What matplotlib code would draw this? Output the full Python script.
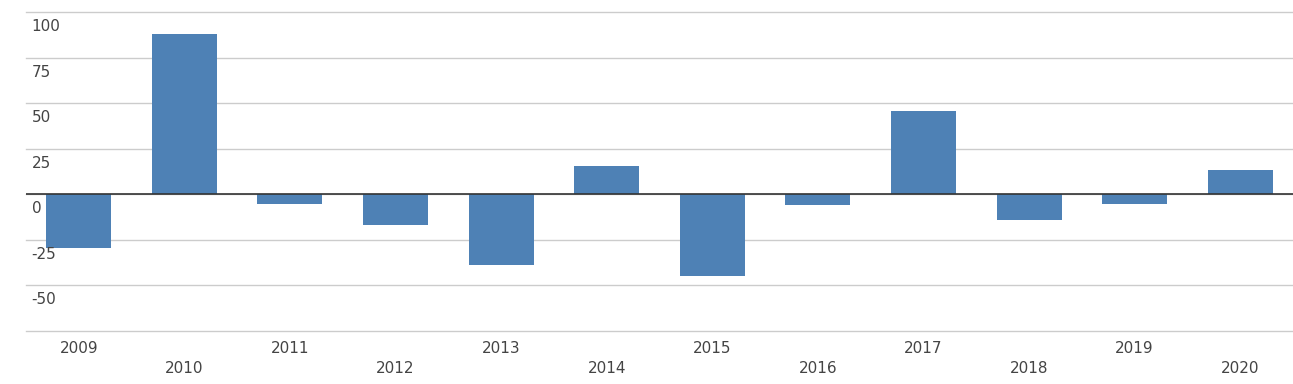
import numpy as np
import matplotlib
matplotlib.use('Agg')
import matplotlib.pyplot as plt
import matplotlib.transforms as mtransforms

years = ['2009', '2010', '2011', '2012', '2013', '2014',
         '2015', '2016', '2017', '2018', '2019', '2020']
values = [-29.5, 88.1, -5.5, -17.0, -39.1, 15.4,
          -45.2, -6.1, 45.7, -14.3, -5.3, 13.2]
yticks = [-75, -50, -25, 0, 25, 50, 75, 100]

bar_color = '#4e81b5'
text_color = '#444444'

fig = plt.figure(figsize=(12.93, 3.84), dpi=100)
W, H = 1293, 384
ax = fig.add_axes([26 / W, (H - 330.7) / H, (W - 26) / W, (330.7 - 12.3) / H])

x = np.arange(len(years))
ax.bar(x, values, width=0.615, color=bar_color, zorder=2)

ax.set_xlim(-0.5, len(years) - 0.5)
ax.set_ylim(-75, 100)

for t in yticks:
    ax.axhline(t, color='#cccccc', linewidth=1, zorder=1, clip_on=False)
ax.axhline(0, color='#333333', linewidth=1.2, zorder=3)

# y labels sit inside the plot, just under each gridline
trans = mtransforms.blended_transform_factory(ax.transAxes, ax.transData)
for t in yticks[1:]:
    ax.annotate(str(t), xy=(0, t), xycoords=trans, xytext=(4, -5),
                textcoords='offset points', ha='left', va='top',
                fontsize=11, color=text_color)

# x labels alternate between two rows
xtrans = mtransforms.blended_transform_factory(ax.transData, ax.transAxes)
for i, yr in enumerate(years):
    off = -13 if i % 2 == 0 else -27.5
    ax.annotate(yr, xy=(i, 0), xycoords=xtrans, xytext=(0, off),
                textcoords='offset points', ha='center', va='center',
                fontsize=11, color=text_color)

ax.set_xticks([])
ax.set_yticks([])
for s in ax.spines.values():
    s.set_visible(False)

fig.savefig('out.png', dpi=100)
